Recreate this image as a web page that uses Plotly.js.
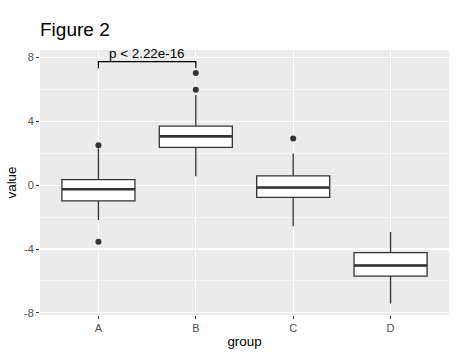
<!DOCTYPE html>
<html>
<head>
<meta charset="utf-8">
<script src="https://cdn.plot.ly/plotly-3.0.1.min.js"></script>
<style>html,body{margin:0;padding:0;background:#fff;}#chart{width:474px;height:355px;}</style>
</head>
<body>
<div id="chart"></div>
<script>
// Data
var groups = ['A', 'B', 'C', 'D'];
var q1 = [-0.99, 2.36, -0.77, -5.70];
var medians = [-0.26, 3.05, -0.15, -5.03];
var q3 = [0.35, 3.70, 0.58, -4.22];
var lowerWhisker = [-2.19, 0.56, -2.57, -7.41];
var upperWhisker = [2.29, 5.64, 1.98, -2.93];
var outlierGroup = ['A', 'A', 'B', 'B', 'C'];
var outlierValue = [2.50, -3.55, 7.02, 5.97, 2.92];
var yTickVals = [-8, -4, 0, 4, 8];
var yTickText = ['-8', '-4', '0', '4', '8'];
var comparison = {from: 'A', to: 'B', label: 'p < 2.22e-16', y: 7.73, tip: 7.31};

var FONT = 'Liberation Sans, Arial, sans-serif';
var boxWidth = 0.75;

var boxTrace = {
  type: 'box',
  x: groups,
  q1: q1,
  median: medians,
  q3: q3,
  lowerfence: lowerWhisker,
  upperfence: upperWhisker,
  boxpoints: false,
  width: boxWidth,
  fillcolor: '#ffffff',
  line: {color: '#333333', width: 1.3},
  whiskerwidth: 0,
  showlegend: false,
  hoverinfo: 'skip'
};

var outlierTrace = {
  type: 'scatter',
  mode: 'markers',
  x: outlierGroup,
  y: outlierValue,
  marker: {color: '#333333', size: 6},
  showlegend: false,
  hoverinfo: 'skip'
};

var shapes = [];
// thicker median lines (ggplot fatten)
groups.forEach(function (g, i) {
  shapes.push({
    type: 'line', xref: 'x', yref: 'y', layer: 'above',
    x0: i - boxWidth / 2, x1: i + boxWidth / 2,
    y0: medians[i], y1: medians[i],
    line: {color: '#333333', width: 2.6}
  });
});
// comparison bracket
var iFrom = groups.indexOf(comparison.from), iTo = groups.indexOf(comparison.to);
shapes.push({
  type: 'path', xref: 'x', yref: 'y', layer: 'above',
  path: 'M ' + iFrom + ',' + comparison.tip + ' L ' + iFrom + ',' + comparison.y +
        ' L ' + iTo + ',' + comparison.y + ' L ' + iTo + ',' + comparison.tip,
  line: {color: '#000000', width: 1.2}
});

var layout = {
  width: 474,
  height: 355,
  margin: {l: 40, r: 25, t: 50, b: 40},
  paper_bgcolor: '#ffffff',
  plot_bgcolor: '#EBEBEB',
  font: {family: FONT, color: '#000000'},
  title: {
    text: 'Figure 2',
    font: {family: FONT, size: 19, color: '#000000'},
    x: 0, xref: 'paper', xanchor: 'left',
    y: 0.916, yref: 'container', yanchor: 'middle'
  },
  xaxis: {
    type: 'category',
    categoryarray: groups,
    range: [-0.6, groups.length - 0.4],
    showgrid: true, gridcolor: '#ffffff', gridwidth: 1.07,
    zeroline: false, showline: false,
    ticks: 'outside', ticklen: 3, tickwidth: 1, tickcolor: '#333333',
    tickfont: {family: FONT, size: 11, color: '#4D4D4D'},
    title: {text: 'group', font: {family: FONT, size: 13.4, color: '#000000'}, standoff: 3},
    fixedrange: true
  },
  yaxis: {
    range: [-8.13, 8.46],
    tickmode: 'array', tickvals: yTickVals, ticktext: yTickText,
    showgrid: true, gridcolor: '#ffffff', gridwidth: 1.07,
    minor: {dtick: 2, tick0: 0, showgrid: true, gridcolor: '#ffffff', gridwidth: 0.53, ticks: ''},
    zeroline: false, showline: false,
    ticks: 'outside', ticklen: 3, tickwidth: 1, tickcolor: '#333333',
    tickfont: {family: FONT, size: 11, color: '#4D4D4D'},
    title: {text: 'value', font: {family: FONT, size: 13.4, color: '#000000'}, standoff: 4},
    fixedrange: true
  },
  shapes: shapes,
  annotations: [{
    xref: 'x', yref: 'y',
    x: (iFrom + iTo) / 2, y: comparison.y,
    text: comparison.label, showarrow: false,
    xanchor: 'center', yanchor: 'bottom', yshift: -1,
    font: {family: FONT, size: 13.4, color: '#000000'}
  }]
};

Plotly.newPlot('chart', [boxTrace, outlierTrace], layout, {displayModeBar: false, staticPlot: true});
</script>
</body>
</html>
